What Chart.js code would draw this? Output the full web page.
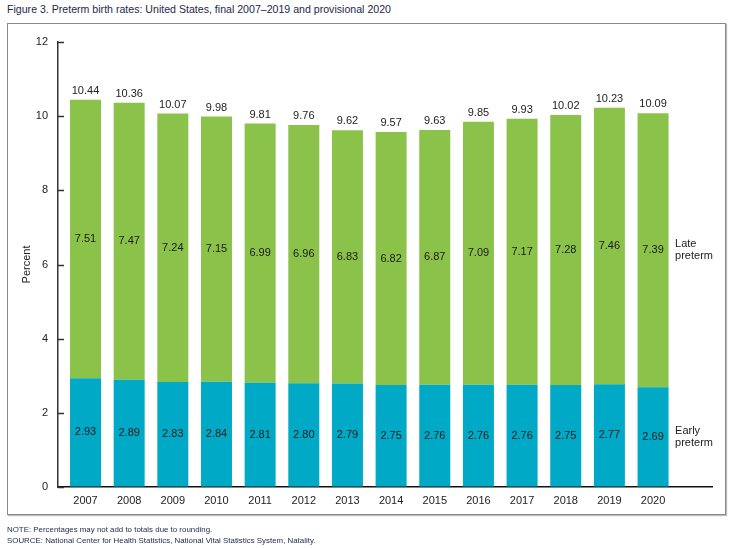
<!DOCTYPE html>
<html>
<head>
<meta charset="utf-8">
<script src="https://cdn.jsdelivr.net/npm/chart.js@4"></script>
<style>
  html, body { margin: 0; padding: 0; background: #fff; }
  body { width: 733px; height: 548px; position: relative; overflow: hidden; font-family: "Liberation Sans", Arial, sans-serif; }
  #title { position: absolute; left: 7px; top: 3px; font-size: 10.6px; color: #1c2848; white-space: nowrap; }
  #frame { position: absolute; left: 7px; top: 23px; width: 717px; height: 490px; border: 1px solid #8a8a8a; box-shadow: 1px 1px 1px #bbb; }
  #wrap { position: absolute; left: 0; top: 0; width: 733px; height: 548px; }
  #notes { position: absolute; left: 7px; top: 524px; font-size: 7.9px; line-height: 11px; color: #1c2848; white-space: nowrap; }
</style>
</head>
<body>
<div id="title">Figure 3. Preterm birth rates: United States, final 2007–2019 and provisional 2020</div>
<div id="frame"></div>
<div id="wrap"><canvas id="pretermChart"></canvas></div>
<div id="notes">NOTE: Percentages may not add to totals due to rounding.<br>SOURCE: National Center for Health Statistics, National Vital Statistics System, Natality.</div>
<script>
const years = ['2007', '2008', '2009', '2010', '2011', '2012', '2013', '2014', '2015', '2016', '2017', '2018', '2019', '2020'];
const earlyPreterm = [2.93, 2.89, 2.83, 2.84, 2.81, 2.80, 2.79, 2.75, 2.76, 2.76, 2.76, 2.75, 2.77, 2.69];
const latePreterm = [7.51, 7.47, 7.24, 7.15, 6.99, 6.96, 6.83, 6.82, 6.87, 7.09, 7.17, 7.28, 7.46, 7.39];
const totals = [10.44, 10.36, 10.07, 9.98, 9.81, 9.76, 9.62, 9.57, 9.63, 9.85, 9.93, 10.02, 10.23, 10.09];
const yTicks = [0, 2, 4, 6, 8, 10, 12];

const FONT = '"Liberation Sans", Arial, sans-serif';

const labelPlugin = {
    id: 'barLabels',
    afterDatasetsDraw(chart) {
        const ctx = chart.ctx;
        const y = chart.scales.y;
        const area = chart.chartArea;
        ctx.save();

        // inward tick marks on the y axis
        ctx.strokeStyle = '#333';
        ctx.lineWidth = 1.5;
        yTicks.forEach(function (v) {
            const py = Math.round(y.getPixelForValue(v)) + 0.5;
            ctx.beginPath();
            ctx.moveTo(area.left, py);
            ctx.lineTo(area.left + 6, py);
            ctx.stroke();
        });

        ctx.font = '11px ' + FONT;
        ctx.textAlign = 'center';
        ctx.textBaseline = 'middle';
        ctx.fillStyle = '#1a1a1a';
        chart.data.datasets.forEach(function (ds, di) {
            const meta = chart.getDatasetMeta(di);
            meta.data.forEach(function (bar, i) {
                const v = ds.data[i].y;
                ctx.fillText(v.toFixed(2), bar.x, (bar.y + bar.base) / 2);
            });
        });

        // totals above the stacks
        const top = chart.getDatasetMeta(1);
        ctx.fillStyle = '#222';
        top.data.forEach(function (bar, i) {
            ctx.fillText(totals[i].toFixed(2), bar.x, bar.y - 9);
        });

        // series labels next to the last bar
        const last = years.length - 1;
        const lx = top.data[last].x + 22;
        ctx.textAlign = 'left';
        const lateY = (top.data[last].y + top.data[last].base) / 2;
        const early = chart.getDatasetMeta(0).data[last];
        const earlyY = (early.y + early.base) / 2;
        ctx.fillText('Late', lx, lateY - 6);
        ctx.fillText('preterm', lx, lateY + 6);
        ctx.fillText('Early', lx, earlyY - 6);
        ctx.fillText('preterm', lx, earlyY + 6);
        ctx.restore();
    }
};

const ctx = document.getElementById('pretermChart').getContext('2d');

new Chart(ctx, {
    type: 'bar',
    data: {
        datasets: [
            {
                label: 'Early preterm',
                data: earlyPreterm.map((v, i) => ({ x: i, y: v })),
                backgroundColor: '#00a9c5',
                borderWidth: 0,
                barPercentage: 0.71,
                categoryPercentage: 1
            },
            {
                label: 'Late preterm',
                data: latePreterm.map((v, i) => ({ x: i, y: v })),
                backgroundColor: '#8bc34a',
                borderWidth: 0,
                barPercentage: 0.71,
                categoryPercentage: 1
            }
        ]
    },
    options: {
        responsive: true,
        maintainAspectRatio: false,
        animation: false,
        layout: {
            padding: { left: 0, top: 42, right: 21, bottom: 41 }
        },
        plugins: {
            legend: { display: false },
            tooltip: { enabled: false }
        },
        scales: {
            x: {
                type: 'linear',
                stacked: true,
                offset: false,
                min: -0.63,
                max: 14.35,
                afterBuildTicks: function (scale) {
                    scale.ticks = years.map((_, i) => ({ value: i }));
                },
                afterFit: function (scale) { scale.height = 20; },
                grid: { offset: false, drawOnChartArea: false, drawTicks: false },
                border: { display: true, color: '#111', width: 1.5 },
                ticks: {
                    autoSkip: false,
                    maxRotation: 0,
                    padding: 7,
                    color: '#222',
                    font: { family: FONT, size: 11 },
                    callback: function (value) {
                        return years[value] !== undefined ? years[value] : '';
                    }
                }
            },
            y: {
                stacked: true,
                min: 0,
                max: 12,
                afterBuildTicks: function (scale) {
                    scale.ticks = yTicks.map(v => ({ value: v }));
                },
                afterFit: function (scale) { scale.width = 58; },
                grid: { drawOnChartArea: false, drawTicks: false },
                border: { display: true, color: '#333', width: 1.5 },
                ticks: {
                    padding: 10,
                    color: '#222',
                    font: { family: FONT, size: 11 }
                },
                title: {
                    display: true,
                    text: 'Percent',
                    color: '#222',
                    font: { family: FONT, size: 11 },
                    padding: { top: 20, bottom: 0 }
                }
            }
        }
    },
    plugins: [labelPlugin]
});
</script>
</body>
</html>
